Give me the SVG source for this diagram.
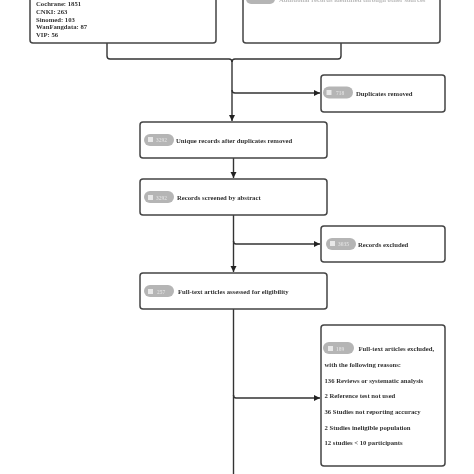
<svg xmlns="http://www.w3.org/2000/svg" width="474" height="474" viewBox="0 0 474 474">
<defs>
<marker id="a" markerUnits="userSpaceOnUse" markerWidth="7" markerHeight="7" refX="6" refY="3" orient="auto"><path d="M0 0L6 3L0 6Z" fill="#222"/></marker>
<filter id="f" filterUnits="userSpaceOnUse" x="0" y="0" width="474" height="474" color-interpolation-filters="sRGB"><feGaussianBlur stdDeviation="0.3"/></filter>
</defs>
<style>
.b{fill:#fff;stroke:#444;stroke-width:1.5}
.c{fill:none;stroke:#333;stroke-width:1.4}
.p{fill:#b5b5b5}
.s{fill:#e8e8e8}
.n{font:bold 5.5px "Liberation Serif",serif;fill:#ddd}
.t{font:bold 6.7px "Liberation Serif",serif;fill:#333}
.g{font:bold 6.7px "Liberation Serif",serif;fill:#bbb}
g{filter:url(#f)}
</style>
<rect width="474" height="474" fill="#fff"/>
<g id="connectors" class="c">
<path class="c" d="M107 43V56Q107 59 110 59H229Q232 59 232 62"/>
<path class="c" d="M341 43V56Q341 59 338 59H235Q232 59 232 62"/>
<path class="c" d="M232 60V121" marker-end="url(#a)"/>
<path class="c" d="M232 90Q232 93 235 93H320" marker-end="url(#a)"/>
<path class="c" d="M233.500 158V178" marker-end="url(#a)"/>
<path class="c" d="M233.500 215V272" marker-end="url(#a)"/>
<path class="c" d="M233.500 241Q233.500 244 236 244H320" marker-end="url(#a)"/>
<path class="c" d="M233.500 309V474"/>
<path class="c" d="M233.500 395Q233.500 398 236 398H320" marker-end="url(#a)"/>
</g>
<g id="n1"><rect class="b" x="30" y="-20" width="186" height="63" rx="3"/>
<text class="t" x="36" y="6">Cochrane: 1851</text><text class="t" x="36" y="13.500">CNKI: 263</text><text class="t" x="36" y="21.500">Sinomed: 103</text><text class="t" x="36" y="29">WanFangdata: 87</text><text class="t" x="36" y="37">VIP: 56</text></g>
<g id="n2"><rect class="b" x="243" y="-20" width="197" height="63" rx="3"/>
<rect class="p" x="246" y="-6" width="29" height="10" rx="5"/>
<text class="g" x="279" y="2">Additional records identified through other sources</text></g>
<g id="n3"><rect class="b" x="321" y="75" width="124" height="37" rx="3"/>
<rect class="p" x="323" y="86.500" width="30" height="12" rx="6"/><rect class="s" x="326.500" y="90" width="5" height="5"/><text class="n" x="336" y="95">718</text>
<text class="t" x="356" y="95.500">Duplicates removed</text></g>
<g id="n4"><rect class="b" x="140" y="122" width="187" height="36" rx="3"/>
<rect class="p" x="144" y="134" width="30" height="12" rx="6"/><rect class="s" x="148" y="137" width="5" height="5"/><text class="n" x="156" y="142">3292</text>
<text class="t" x="176" y="142.500">Unique records after duplicates removed</text></g>
<g id="n5"><rect class="b" x="140" y="179" width="187" height="36" rx="3"/>
<rect class="p" x="144" y="191" width="30" height="12" rx="6"/><rect class="s" x="148" y="195" width="5" height="5"/><text class="n" x="156" y="200">3292</text>
<text class="t" x="177" y="200">Records screened by abstract</text></g>
<g id="n6"><rect class="b" x="321" y="226" width="124" height="36" rx="3"/>
<rect class="p" x="326" y="238" width="30" height="12" rx="6"/><rect class="s" x="330" y="241" width="5" height="5"/><text class="n" x="338" y="246">3035</text>
<text class="t" x="358" y="246.500">Records excluded</text></g>
<g id="n7"><rect class="b" x="140" y="273" width="187" height="36" rx="3"/>
<rect class="p" x="144" y="285" width="30" height="12" rx="6"/><rect class="s" x="148" y="289" width="5" height="5"/><text class="n" x="157" y="294">257</text>
<text class="t" x="178" y="294">Full-text articles assessed for eligibility</text></g>
<g id="n8"><rect class="b" x="321" y="325" width="124" height="141" rx="3"/>
<rect class="p" x="323" y="342" width="31" height="12" rx="6"/><rect class="s" x="328" y="346" width="5" height="5"/><text class="n" x="336" y="351">189</text>
<text class="t" x="358.500" y="351">Full-text articles excluded,</text>
<text class="t" x="324.500" y="367">with the following reasons:</text>
<text class="t" x="324.500" y="382.500">136 Reviews or systematic analysis</text>
<text class="t" x="324.500" y="398">2 Reference test not used</text>
<text class="t" x="324.500" y="414">36 Studies not reporting accuracy</text>
<text class="t" x="324.500" y="429.500">2 Studies ineligible population</text>
<text class="t" x="324.500" y="445">12 studies &lt; 10 participants</text></g>
</svg>
